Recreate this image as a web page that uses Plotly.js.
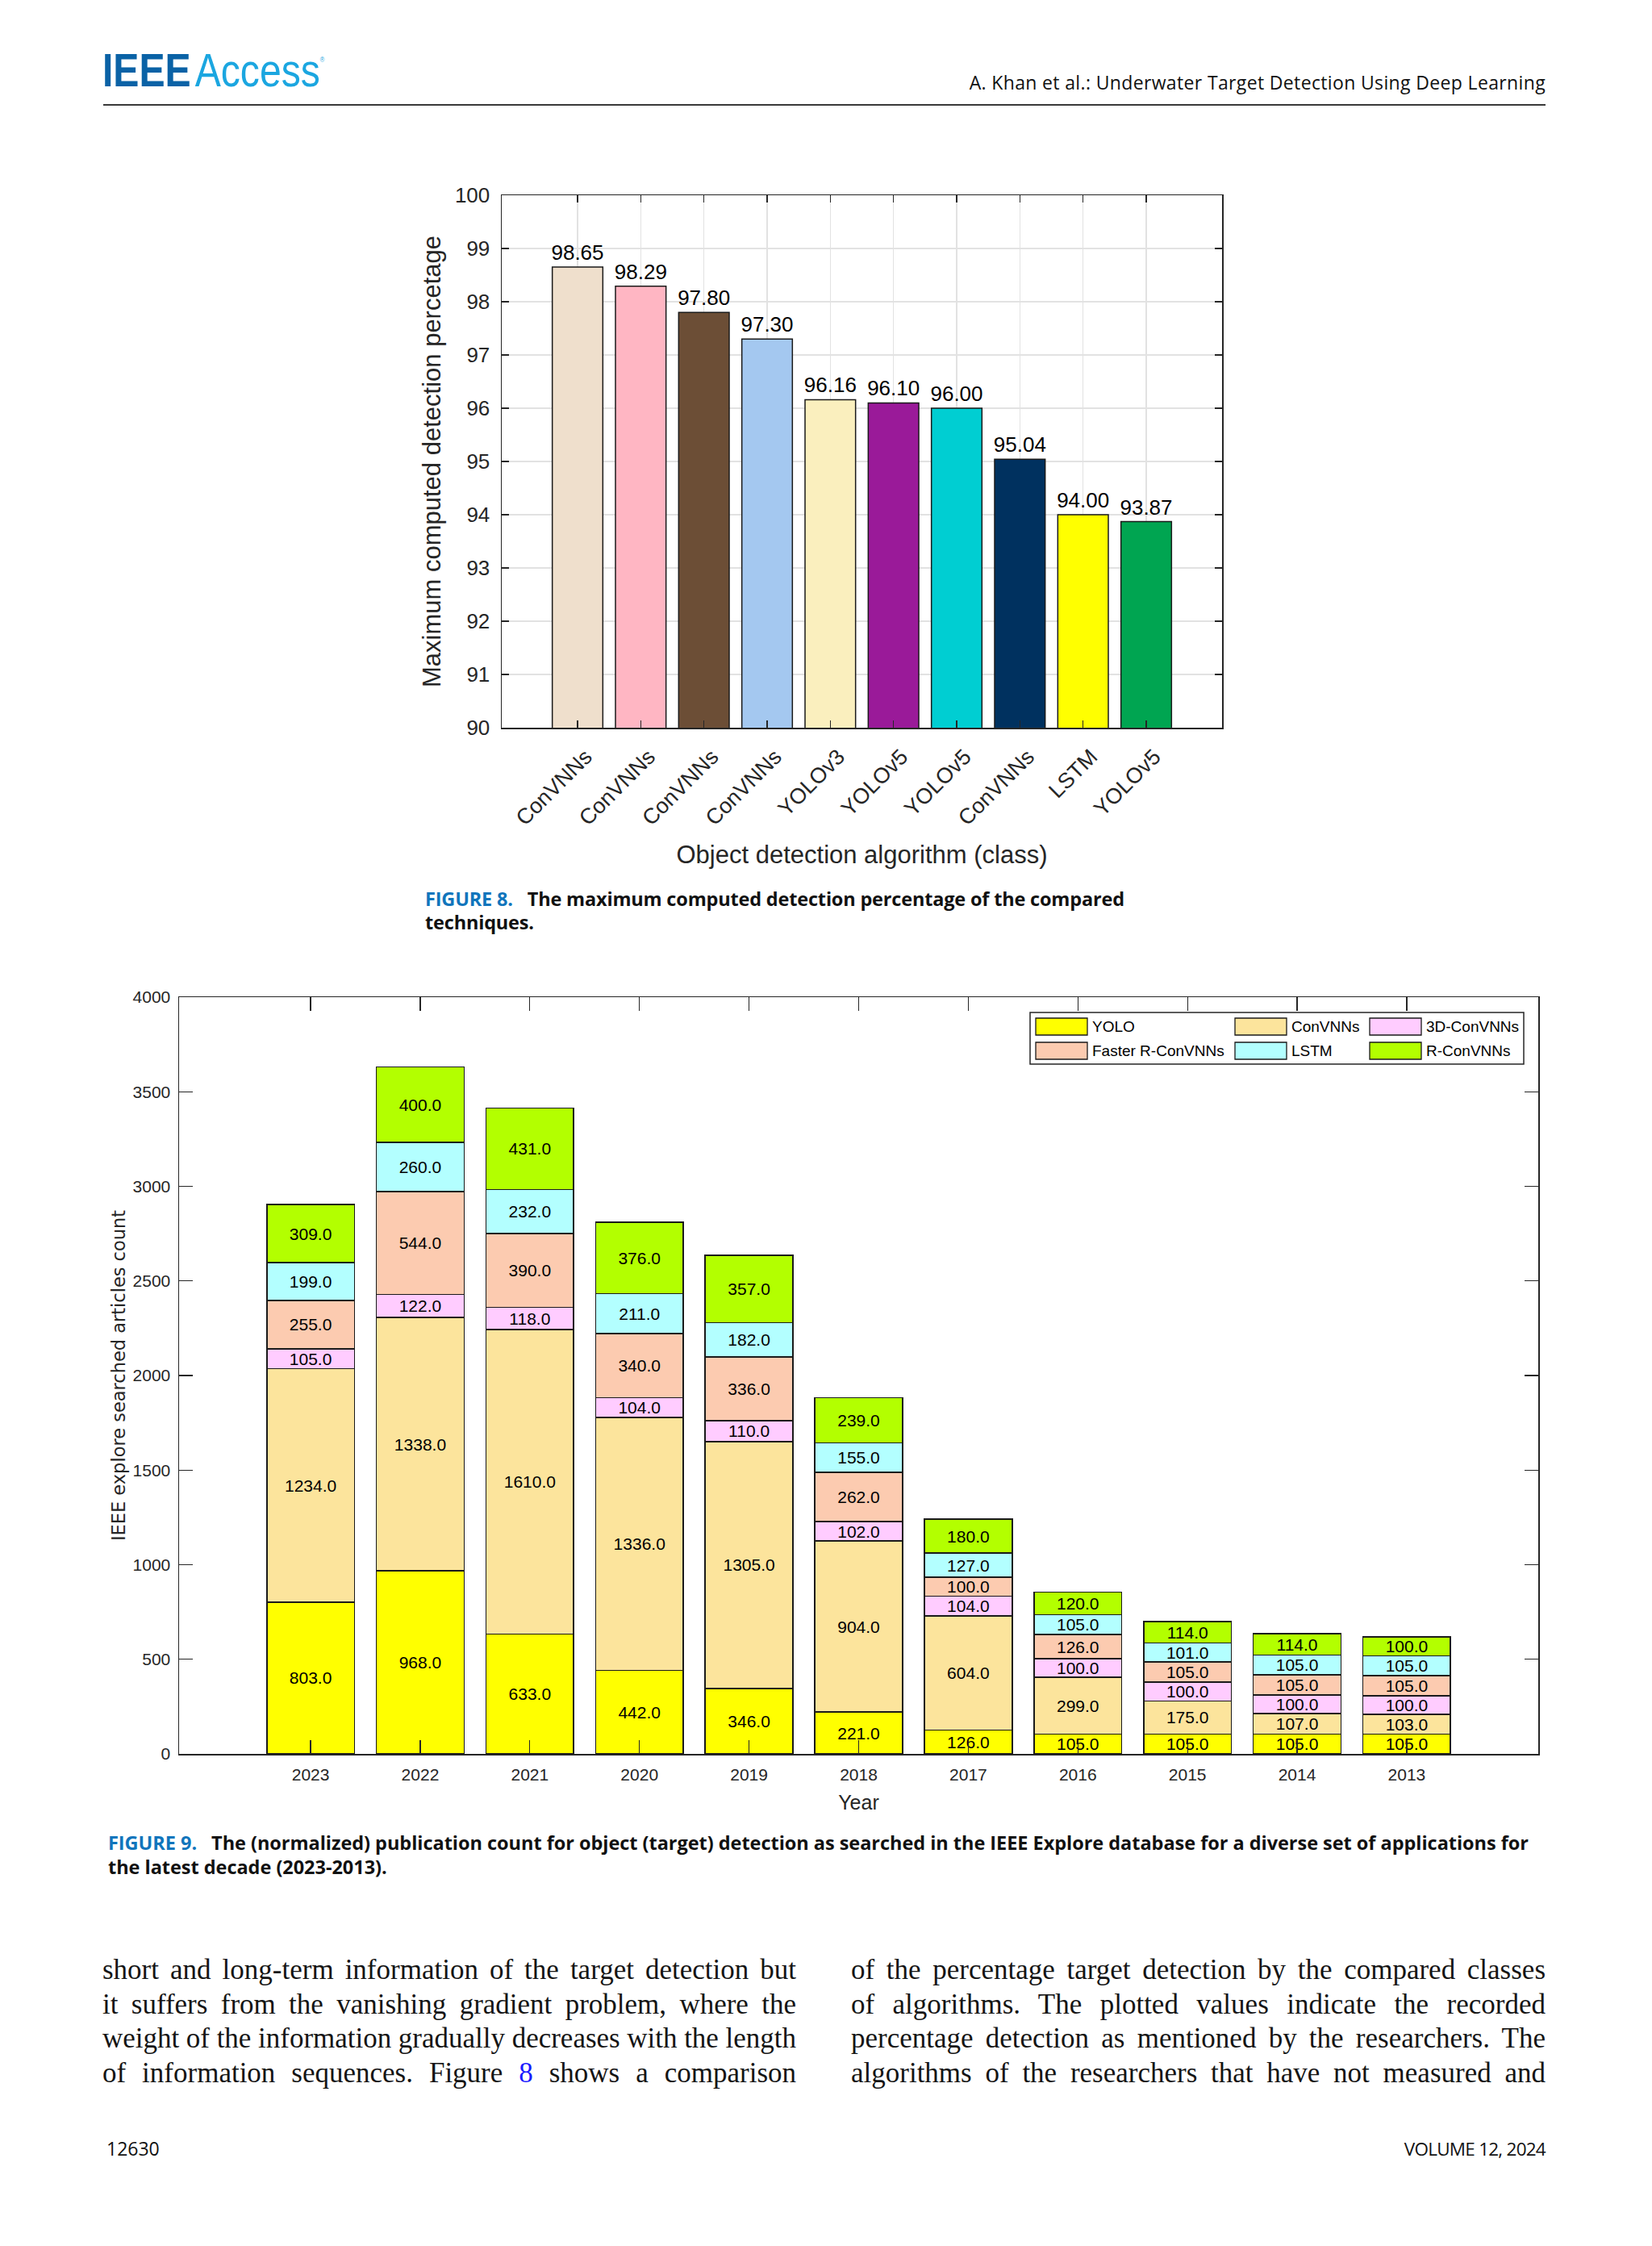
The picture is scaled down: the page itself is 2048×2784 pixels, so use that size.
<!DOCTYPE html>
<html>
<head>
<meta charset="utf-8">
<title>Figure 8 and Figure 9 - Underwater Target Detection</title>
<script src="https://cdn.plot.ly/plotly-3.0.1.min.js"></script>
<style>
  html, body { margin:0; padding:0; background:#ffffff; }
  #page { position:relative; width:2048px; height:2784px; overflow:hidden; background:#ffffff; }
  .txt { position:absolute; white-space:nowrap; line-height:1; left:0; top:0; }
  .plot { position:absolute; }
  .cap { font-family:'Open Sans', 'Liberation Sans', sans-serif; font-weight:700; font-size:23.5px; color:#111111; }
  .cap .fig { color:#1075BC; margin-right:18px; }
  .body { font-family:'Liberation Serif', 'Times New Roman', serif; font-size:35px; color:#151515; }
  .body .ref { color:#1a1aff; }
  .furn { font-family:'Open Sans', 'Liberation Sans', sans-serif; color:#111111; }
  #logo { transform-origin:0 0; transform:scaleX(0.83); }
</style>
</head>
<body>
<div id="page">
  <div class="txt" id="logo" style="font-family:'Liberation Sans',sans-serif;font-size:58px;"><span style="font-weight:700;color:#0A62A6;">IEEE</span><span style="color:#1BA6E0;margin-left:6px;">Access</span><span style="color:#1BA6E0;font-size:9px;vertical-align:30px;">®</span></div>
  <div class="txt furn" id="runhead" style="font-size:23px;">A. Khan et al.: Underwater Target Detection Using Deep Learning</div>
  <div id="rule" style="position:absolute;left:128px;top:128.5px;width:1788px;height:2.5px;background:#3a3a3a;"></div>

  <div class="plot" id="fig8" style="left:450px;top:190px;width:1150px;height:920px;"></div>

  <div class="txt cap" id="cap8a"><span class="fig">FIGURE 8.</span>The maximum computed detection percentage of the compared</div>
  <div class="txt cap" id="cap8b">techniques.</div>

  <div class="plot" id="fig9" style="left:90px;top:1200px;width:1920px;height:1070px;"></div>

  <div class="txt cap" id="cap9a"><span class="fig">FIGURE 9.</span>The (normalized) publication count for object (target) detection as searched in the IEEE Explore database for a diverse set of applications for</div>
  <div class="txt cap" id="cap9b">the latest decade (2023-2013).</div>

  <div class="txt body" id="bl1">short and long-term information of the target detection but</div>
  <div class="txt body" id="bl2">it suffers from the vanishing gradient problem, where the</div>
  <div class="txt body" id="bl3">weight of the information gradually decreases with the length</div>
  <div class="txt body" id="bl4">of information sequences. Figure <span class="ref">8</span> shows a comparison</div>
  <div class="txt body" id="br1">of the percentage target detection by the compared classes</div>
  <div class="txt body" id="br2">of algorithms. The plotted values indicate the recorded</div>
  <div class="txt body" id="br3">percentage detection as mentioned by the researchers. The</div>
  <div class="txt body" id="br4">algorithms of the researchers that have not measured and</div>

  <div class="txt furn" id="pgnum" style="font-size:23px;">12630</div>
  <div class="txt furn" id="vol" style="font-size:22.5px;">VOLUME 12, 2024</div>
</div>

<script>
// ================= DATA: Figure 8 =================
const fig8Labels  = ['ConVNNs','ConVNNs','ConVNNs','ConVNNs','YOLOv3','YOLOv5','YOLOv5','ConVNNs','LSTM','YOLOv5'];
const fig8Percent = [98.65, 98.29, 97.80, 97.30, 96.16, 96.10, 96.00, 95.04, 94.00, 93.87];
const fig8Colors  = ['#EFDFCC','#FFB6C3','#6C4E36','#A4C8F0','#FAEFBE','#9A1A99','#00CED2','#00315F','#FFFF00','#00A551'];
const fig8YTicks  = [90,91,92,93,94,95,96,97,98,99,100];

// ================= DATA: Figure 9 =================
const years          = ['2023','2022','2021','2020','2019','2018','2017','2016','2015','2014','2013'];
const yoloCounts     = [803, 968, 633, 442, 346, 221, 126, 105, 105, 105, 105];
const convnnsCounts  = [1234, 1338, 1610, 1336, 1305, 904, 604, 299, 175, 107, 103];
const conv3dCounts   = [105, 122, 118, 104, 110, 102, 104, 100, 100, 100, 100];
const fasterRCounts  = [255, 544, 390, 340, 336, 262, 100, 126, 105, 105, 105];
const lstmCounts     = [199, 260, 232, 211, 182, 155, 127, 105, 101, 105, 105];
const rconvCounts    = [309, 400, 431, 376, 357, 239, 180, 120, 114, 114, 100];
const seriesNames    = ['YOLO','ConVNNs','3D-ConVNNs','Faster R-ConVNNs','LSTM','R-ConVNNs'];
const seriesColors   = ['#FFFF00','#FCE49C','#FFCCFF','#FCCBB0','#B3FFFF','#B3FF00'];
const fig9YTicks     = [0,500,1000,1500,2000,2500,3000,3500,4000];

// ================= Figure 8 =================
const AX = '#262626';
const fig8Idx = fig8Labels.map((_, i) => i);
const fig8Trace = {
  type: 'bar',
  x: fig8Idx,
  y: fig8Percent,
  width: 0.8,
  marker: { color: fig8Colors, line: { color: '#1a1a1a', width: 1.5 } },
  text: fig8Percent.map(v => v.toFixed(2)),
  textposition: 'outside',
  constraintext: 'none',
  cliponaxis: false,
  textfont: { size: 26, color: '#000000' },
  hoverinfo: 'skip'
};
const fig8Layout = {
  width: 1150, height: 920,
  margin: { l: 172, r: 85, t: 52, b: 208 },
  paper_bgcolor: 'rgba(0,0,0,0)', plot_bgcolor: '#ffffff',
  showlegend: false,
  font: { family: 'Liberation Sans, Arial, Helvetica, sans-serif', color: AX },
  xaxis: {
    range: [-1.2, 10.2], tickmode: 'array', tickvals: fig8Idx, ticktext: fig8Labels,
    tickangle: -45, tickfont: { size: 27, color: AX },
    ticklabelshift: 10, ticklabelstandoff: 8,
    showgrid: true, gridcolor: '#e2e2e2', gridwidth: 1.5, zeroline: false,
    showline: true, mirror: 'ticks', linecolor: AX, linewidth: 1.5,
    ticks: 'inside', ticklen: 9, tickwidth: 1.5, tickcolor: AX,
    title: { text: 'Object detection algorithm (class)', font: { size: 31, color: AX }, standoff: 20 }
  },
  yaxis: {
    range: [90, 100], tickmode: 'array', tickvals: fig8YTicks,
    tickfont: { size: 26, color: AX }, ticklabelstandoff: 8,
    showgrid: true, gridcolor: '#e2e2e2', gridwidth: 1.5, zeroline: false,
    showline: true, mirror: 'ticks', linecolor: AX, linewidth: 1.5,
    ticks: 'inside', ticklen: 9, tickwidth: 1.5, tickcolor: AX,
    title: { text: 'Maximum computed detection percetage', font: { size: 31, color: AX }, standoff: 8 }
  }
};
Plotly.newPlot('fig8', [fig8Trace], fig8Layout, { staticPlot: true, displayModeBar: false });

// ================= Figure 9 =================
const fig9Series = [yoloCounts, convnnsCounts, conv3dCounts, fasterRCounts, lstmCounts, rconvCounts];
const fig9Traces = fig9Series.map((vals, k) => ({
  type: 'bar',
  name: seriesNames[k],
  x: years,
  y: vals,
  marker: { color: seriesColors[k], line: { color: '#1a1a1a', width: 1.6 } },
  texttemplate: '%{y:.1f}',
  textposition: 'inside',
  insidetextanchor: 'middle',
  textangle: 0,
  constraintext: 'none',
  textfont: { size: 21, color: '#000000' },
  showlegend: false,
  hoverinfo: 'skip'
}));

// legend (drawn like the MATLAB one: wide swatches, 3 columns)
const PW = 1685, PH = 938;            // plot-area size in px
const fx = p => p / PW, fy = p => 1 - p / PH;
const legBox = { l: 1055, t: 19, r: 1667, b: 83 };
const legCols = [1062, 1309, 1476], legRows = [26, 56], swW = 64, swH = 21;
const legShapes = [{
  type: 'rect', xref: 'paper', yref: 'paper',
  x0: fx(legBox.l), x1: fx(legBox.r), y0: fy(legBox.b), y1: fy(legBox.t),
  fillcolor: '#ffffff', line: { color: AX, width: 1.5 }
}];
const legAnn = [];
seriesNames.forEach((name, k) => {
  const c = legCols[k % 3], r = legRows[Math.floor(k / 3)];
  legShapes.push({
    type: 'rect', xref: 'paper', yref: 'paper',
    x0: fx(c), x1: fx(c + swW), y0: fy(r + swH), y1: fy(r),
    fillcolor: seriesColors[k], line: { color: '#1a1a1a', width: 1.3 }
  });
  legAnn.push({
    xref: 'paper', yref: 'paper', x: fx(c + swW + 4), y: fy(r + swH / 2),
    xanchor: 'left', yanchor: 'middle', showarrow: false,
    text: name, font: { size: 19, color: '#000000' }
  });
});

const fig9Layout = {
  width: 1920, height: 1070,
  margin: { l: 132, r: 103, t: 36, b: 96 },
  paper_bgcolor: 'rgba(0,0,0,0)', plot_bgcolor: '#ffffff',
  barmode: 'stack', bargap: 0.2,
  showlegend: false,
  uniformtext: { mode: 'show', minsize: 21 },
  font: { family: 'Liberation Sans, Arial, Helvetica, sans-serif', color: AX },
  xaxis: {
    type: 'category', range: [-1.2, 11.2],
    tickfont: { size: 21, color: AX }, ticklabelstandoff: 6,
    showgrid: false, zeroline: false,
    showline: true, mirror: 'ticks', linecolor: AX, linewidth: 1.5,
    ticks: 'inside', ticklen: 17, tickwidth: 1.3, tickcolor: AX,
    title: { text: 'Year', font: { size: 25, color: AX }, standoff: 16 }
  },
  yaxis: {
    range: [0, 4000], tickmode: 'array', tickvals: fig9YTicks,
    tickfont: { size: 21, color: AX }, ticklabelstandoff: 5,
    showgrid: false, zeroline: false,
    showline: true, mirror: 'ticks', linecolor: AX, linewidth: 1.5,
    ticks: 'inside', ticklen: 17, tickwidth: 1.3, tickcolor: AX,
    title: { text: 'IEEE explore searched articles count', font: { size: 22.5, family: 'DejaVu Sans, Liberation Sans, sans-serif', color: AX }, standoff: 2 }
  },
  shapes: legShapes,
  annotations: legAnn
};
Plotly.newPlot('fig9', fig9Traces, fig9Layout, { staticPlot: true, displayModeBar: false });

// ================= page text placement =================
const textPlacement = [
  { id: 'logo', left: 127, base: 107 },
  { id: 'runhead', right: 1916, base: 111, width: 714, fit: 'ls' },
  { id: 'cap8a', left: 527, base: 1123, width: 867, fit: 'ls' },
  { id: 'cap8b', left: 527, base: 1152, lsFrom: 'cap8a' },
  { id: 'cap9a', left: 134, base: 2293, width: 1761, fit: 'ls' },
  { id: 'cap9b', left: 134, base: 2323, lsFrom: 'cap9a' },
  { id: 'bl1', left: 127, base: 2453, width: 860, fit: 'ws' },
  { id: 'bl2', left: 127, base: 2496, width: 860, fit: 'ws' },
  { id: 'bl3', left: 127, base: 2538, width: 860, fit: 'ws' },
  { id: 'bl4', left: 127, base: 2581, width: 860, fit: 'ws' },
  { id: 'br1', left: 1055, base: 2453, width: 861, fit: 'ws' },
  { id: 'br2', left: 1055, base: 2496, width: 861, fit: 'ws' },
  { id: 'br3', left: 1055, base: 2538, width: 861, fit: 'ws' },
  { id: 'br4', left: 1055, base: 2581, width: 861, fit: 'ws' },
  { id: 'pgnum', left: 132, base: 2672 },
  { id: 'vol', right: 1916, base: 2672, width: 176, fit: 'ls' }
];
function baselineOffset(el) {
  const m = document.createElement('span');
  m.style.display = 'inline-block'; m.style.width = '0px'; m.style.height = '0px';
  m.style.verticalAlign = 'baseline';
  el.appendChild(m);
  const off = m.getBoundingClientRect().top - el.getBoundingClientRect().top;
  el.removeChild(m);
  return off;
}
function layoutText() {
  const lsMap = {};
  textPlacement.forEach(p => {
    const el = document.getElementById(p.id);
    el.style.letterSpacing = '0px'; el.style.wordSpacing = '0px';
    const w = el.getBoundingClientRect().width;
    const txt = el.textContent;
    if (p.fit === 'ls') {
      const ls = (p.width - w) / Math.max(1, txt.length - 1);
      el.style.letterSpacing = ls + 'px';
      lsMap[p.id] = ls;
    } else if (p.fit === 'ws') {
      const n = (txt.match(/ /g) || []).length;
      el.style.wordSpacing = ((p.width - w) / Math.max(1, n)) + 'px';
    } else if (p.lsFrom) {
      el.style.letterSpacing = (lsMap[p.lsFrom] || 0) + 'px';
    }
    const wNow = el.getBoundingClientRect().width;
    if (p.right !== undefined) el.style.left = (p.right - wNow) + 'px';
    else el.style.left = p.left + 'px';
    el.style.top = (p.base - baselineOffset(el)) + 'px';
  });
}
const fontLoads = [
  '700 23.5px "Open Sans"', '23px "Open Sans"', '35px "Liberation Serif"',
  '700 58px "Liberation Sans"', '58px "Liberation Sans"'
].map(f => document.fonts.load(f).catch(() => null));
Promise.all(fontLoads).then(() => document.fonts.ready).then(layoutText);
</script>
</body>
</html>
